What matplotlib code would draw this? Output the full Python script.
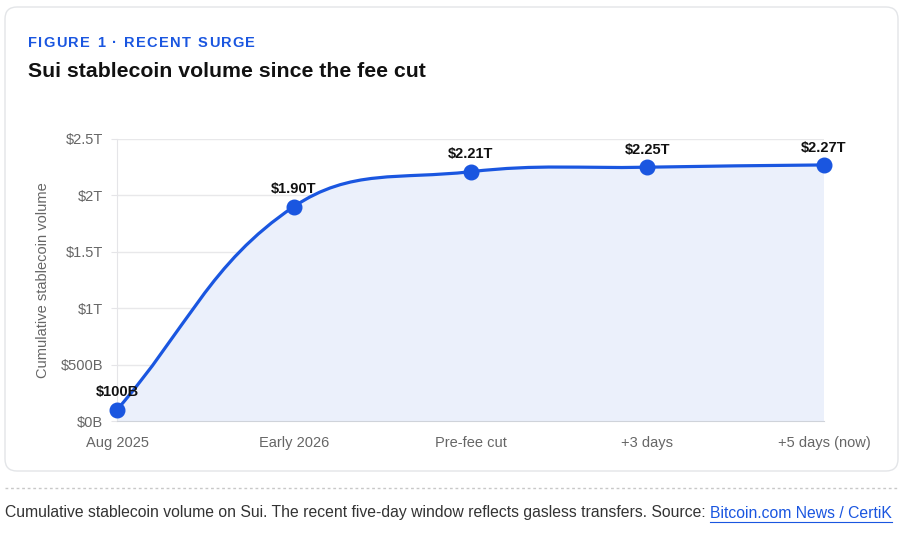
import numpy as np
import matplotlib
matplotlib.use("Agg")
import matplotlib.pyplot as plt
from matplotlib.patches import FancyBboxPatch, PathPatch
from matplotlib.path import Path
from matplotlib.lines import Line2D

plt.rcParams['font.family'] = ['Liberation Sans', 'DejaVu Sans']

categories = ["Aug 2025", "Early 2026", "Pre-fee cut", "+3 days", "+5 days (now)"]
volume_t = [0.10, 1.90, 2.21, 2.25, 2.27]
point_labels = ["$100B", "$1.90T", "$2.21T", "$2.25T", "$2.27T"]
y_ticks = [0, 0.5, 1.0, 1.5, 2.0, 2.5]
y_tick_labels = ["$0B", "$500B", "$1T", "$1.5T", "$2T", "$2.5T"]

BLUE = "#1a56e0"
FILL = "#ebf0fb"
W, H = 906, 536

fig = plt.figure(figsize=(W / 100, H / 100), dpi=100)
fig.patch.set_facecolor("white")

# card
card = FancyBboxPatch((0.05, (H - 471) / 100), 8.93, 4.64,
                      boxstyle="round,pad=0,rounding_size=0.12",
                      transform=fig.dpi_scale_trans, facecolor="white",
                      edgecolor="#e3e5e8", linewidth=1.0, zorder=-5)
fig.patches.append(card)

ax = fig.add_axes([117 / W, 1 - 421 / H, (824 - 117) / W, (421 - 139) / H])
ax.set_facecolor("none")
x = np.arange(len(categories))
ax.set_xlim(0, len(categories) - 1)
ax.set_ylim(0, 2.5)

# smooth line like chart.js (tension 0.4), control points in pixel space
fig.canvas.draw()
pts = ax.transData.transform(np.column_stack([x, volume_t]))
n = len(pts)
verts = [pts[0]]
codes = [Path.MOVETO]
cps = []
for i in range(n):
    prev = pts[max(i - 1, 0)]
    nxt = pts[min(i + 1, n - 1)]
    cur = pts[i]
    d01 = np.hypot(*(cur - prev))
    d12 = np.hypot(*(nxt - cur))
    tot = d01 + d12 if d01 + d12 > 0 else 1
    fa = 0.4 * d01 / tot
    fb = 0.4 * d12 / tot
    cps.append((cur - fa * (nxt - prev), cur + fb * (nxt - prev)))
for i in range(n - 1):
    verts += [cps[i][1], cps[i + 1][0], pts[i + 1]]
    codes += [Path.CURVE4] * 3
inv = ax.transData.inverted()
dverts = inv.transform(np.array(verts))

line_path = Path(dverts, codes)
fill_verts = list(dverts) + [[x[-1], 0], [x[0], 0], dverts[0]]
fill_codes = list(codes) + [Path.LINETO, Path.LINETO, Path.CLOSEPOLY]
ax.add_patch(PathPatch(Path(fill_verts, fill_codes), facecolor=FILL,
                       edgecolor="none", zorder=1))
ax.add_patch(PathPatch(line_path, facecolor="none", edgecolor=BLUE,
                       linewidth=2.3, zorder=3, capstyle="round"))
ax.plot(x, volume_t, "o", color=BLUE, markersize=10.5, zorder=4, clip_on=False)

for xi, yi, lab in zip(x, volume_t, point_labels):
    ax.annotate(lab, (xi, yi), xytext=(0, 7.5), textcoords="offset points",
                ha="center", va="bottom", fontsize=10.5, fontweight="bold",
                color="#111111", zorder=5, annotation_clip=False)

ax.set_yticks(y_ticks)
ax.set_yticklabels(y_tick_labels)
ax.set_xticks(x)
ax.set_xticklabels(categories)
ax.grid(axis="y", color="#e8e8ea", linewidth=1)
ax.set_axisbelow(True)
for s in ["top", "right"]:
    ax.spines[s].set_visible(False)
ax.spines["left"].set_color("#e5e5e8")
ax.spines["bottom"].set_color("#cfd3da")
ax.tick_params(axis="y", length=4, color="#e5e5e8", pad=6, labelsize=10.5,
               labelcolor="#666666")
ax.tick_params(axis="x", length=0, pad=11, labelsize=10.5, labelcolor="#666666")
ax.set_ylabel("Cumulative stablecoin volume", fontsize=10.5, color="#666666")
ax.yaxis.set_label_coords((50 - 117) / 707, 0.5)

# heading with letter spacing
renderer = fig.canvas.get_renderer()
heading = "FIGURE 1 · RECENT SURGE"
cx = 28
for ch in heading:
    t = fig.text(cx / W, 1 - 43 / H, ch, fontsize=10.5, fontweight="bold",
                 color=BLUE, va="center", ha="left")
    w = t.get_window_extent(renderer).width
    if ch == " ":
        w = 4.5
    cx += w + 1.3

fig.text(28 / W, 1 - 72 / H, "Sui stablecoin volume since the fee cut",
         fontsize=15.3, fontweight="bold", color="#111111", va="center")

# dotted separator
fig.add_artist(Line2D([5 / W, 898 / W], [1 - 488 / H, 1 - 488 / H],
                      transform=fig.transFigure, color="#c8c8c8",
                      linewidth=1, linestyle=(0, (2, 2))))

cap = fig.text(5 / W, 1 - 513 / H,
               "Cumulative stablecoin volume on Sui. The recent five-day window "
               "reflects gasless transfers. Source: ",
               fontsize=11.3, color="#333333", va="center")
fig.canvas.draw()
bb = cap.get_window_extent(renderer)
link = fig.text(bb.x1 / W, 1 - 513 / H, "Bitcoin.com News / CertiK",
                fontsize=11.3, color=BLUE, va="center")
lb = link.get_window_extent(renderer)
fig.add_artist(Line2D([lb.x0 / W, lb.x1 / W], [(lb.y0 - 1) / H, (lb.y0 - 1) / H],
                      transform=fig.transFigure, color=BLUE, linewidth=0.8))

fig.savefig("out.png", dpi=100, facecolor="white")
